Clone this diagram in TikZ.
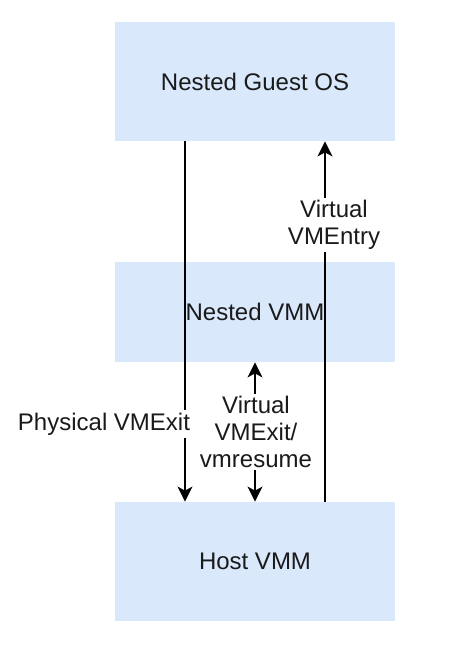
\documentclass[tikz,border=0pt]{standalone}
\usepackage{fontspec}
\setmainfont{Liberation Sans}
\usetikzlibrary{arrows.meta}
\definecolor{boxfill}{HTML}{DAE8FC}
\definecolor{txt}{HTML}{1A1A1A}
\tikzset{
  layer/.style={fill=boxfill, draw=none, minimum width=140pt, text=txt, font=\fontsize{12pt}{13.5pt}\selectfont},
  lbl/.style={fill=white, text=txt, align=center, inner sep=1.5pt, font=\fontsize{12pt}{13.3pt}\selectfont},
  arr/.style={line width=1pt, -{Stealth[length=7.5pt, width=7.5pt, inset=2pt]}},
  darr/.style={line width=1pt, {Stealth[length=7.5pt, width=7.5pt, inset=2pt]}-{Stealth[length=7.5pt, width=7.5pt, inset=2pt]}}
}
\begin{document}
\begin{tikzpicture}[x=0.5pt, y=-0.5pt]
\useasboundingbox (0,0) rectangle (458,647);
\node[layer, minimum height=59.5pt] (g) at (255,81.5) {Nested Guest OS};
\node[layer, minimum height=50pt] (n) at (255,312) {Nested VMM};
\node[layer, minimum height=59.5pt] (h) at (255,561.5) {Host VMM};
\coordinate (xl) at (185,0);
\coordinate (xm) at (255,0);
\coordinate (xr) at (325,0);
\draw[arr] (g.south -| xl) -- (h.north -| xl);
\draw[arr] (h.north -| xr) -- (g.south -| xr);
\draw[darr] (n.south -| xm) -- (h.north -| xm);
\node[lbl] (lp) at (104,424) {Physical VMExit};
\node[lbl] (lv) at (334,225) {Virtual\\VMEntry};
\node[lbl] (lm) at (256,432) {Virtual\\VMExit/\\vmresume};
\end{tikzpicture}
\end{document}
